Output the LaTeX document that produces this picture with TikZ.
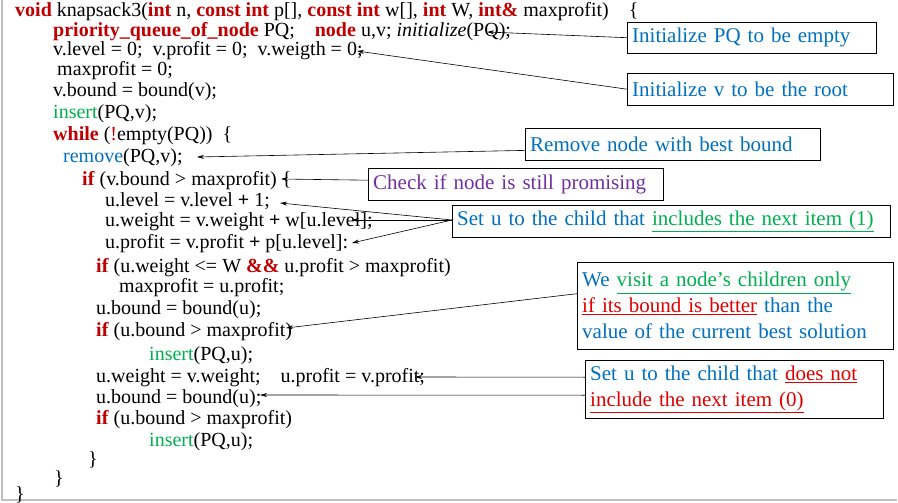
\documentclass[tikz,border=0pt]{standalone}
\usepackage{fontspec}
\setmainfont{Liberation Serif}
\usetikzlibrary{arrows.meta}
\definecolor{kw}{HTML}{C00000}
\definecolor{gr}{HTML}{00B050}
\definecolor{bl}{HTML}{0070C0}
\definecolor{pu}{HTML}{7030A0}
\definecolor{rd}{HTML}{E00000}
\newcommand{\kw}[1]{\textcolor{kw}{\textbf{#1}}}
\newcommand{\grn}[1]{\textcolor{gr}{#1}}
\newcommand{\myul}[1]{\underline{#1}}
\tikzset{
 code/.style={anchor=base west,inner sep=0pt,font=\fontsize{20}{22}\selectfont},
 cbox/.style={draw,anchor=north west,inner xsep=5pt,inner ysep=0pt,align=left,font=\fontsize{21}{26}\selectfont,text=bl},
 arr/.style={-{Stealth[length=7pt,width=4pt]},semithick}
}
\begin{document}
\begin{tikzpicture}[x=1pt,y=-1pt]
\fill[white] (0,0) rectangle (898,503);
\useasboundingbox (0,0) rectangle (898,503);
\draw[gray!50,line width=1.2pt] (2,-1) -- (2,500) -- (897,500);
\node[code] (l1) at (15,17) {\kw{void} knapsack3(\kw{int} n, \kw{const int} p[], \kw{const int} w[], \kw{int} W, \kw{int\&} maxprofit)\quad\{};
\node[code] (l2) at (53,37) {\kw{priority\_queue\_of\_node} PQ;\quad \kw{node} u,v; \textit{initialize}(PQ);};
\node[code] (l3) at (53,56) {v.level = 0;\ \ v.profit = 0;\ \ v.weigth = 0;};
\node[code] (l4) at (57,76) {maxprofit = 0;};
\node[code] (l5) at (53,96) {v.bound = bound(v);};
\node[code] (l6) at (53,118) {\grn{insert}(PQ,v);};
\node[code] (l7) at (53,140) {\kw{while} (\textcolor{kw}{!}empty(PQ))\ \ \{};
\node[code] (l8) at (63,162) {\textcolor{bl}{remove}(PQ,v);};
\node[code] (l9) at (82,185) {\kw{if} (v.bound > maxprofit) \{};
\node[code] (l10) at (105,206) {u.level = v.level \textbf{+} 1;};
\node[code] (l11) at (105,226) {u.weight = v.weight \textbf{+} w[u.level];};
\node[code] (l12) at (105,248) {u.profit = v.profit \textbf{+} p[u.level]:};
\node[code] (l13) at (96,272) {\kw{if} (u.weight <= W \kw{\&\&} u.profit > maxprofit)};
\node[code] (l14) at (119,292) {maxprofit = u.profit;};
\node[code] (l15) at (96,314) {u.bound = bound(u);};
\node[code] (l16) at (96,336) {\kw{if} (u.bound > maxprofit)};
\node[code] (l17) at (149,360) {\grn{insert}(PQ,u);};
\node[code] (l18) at (96,382) {u.weight = v.weight;\quad u.profit = v.profit;};
\node[code] (l19) at (96,403) {u.bound = bound(u);};
\node[code] (l20) at (96,424) {\kw{if} (u.bound > maxprofit)};
\node[code] (l21) at (149,446) {\grn{insert}(PQ,u);};
\node[code] (l22) at (88,465) {\}};
\node[code] (l23) at (54,484) {\}};
\node[code] (l24) at (15,500) {\}};
% boxes
\node[cbox,minimum width=249pt,minimum height=31pt,text width=239pt] (A) at (627,22) {Initialize PQ to be empty};
\node[cbox,minimum width=266pt,minimum height=32pt,text width=256pt] (B) at (627,73) {Initialize v to be the root};
\node[cbox,minimum width=295pt,minimum height=32pt,text width=285pt] (C) at (525,128) {Remove node with best bound};
\node[cbox,minimum width=295pt,minimum height=32pt,text width=285pt,text=pu] (D) at (368,168) {Check if node is still promising};
\node[cbox,minimum width=438pt,minimum height=32pt,text width=428pt] (E) at (452,205) {Set u to the child that \textcolor{gr}{\myul{includes the next item (1)}}};
\node[cbox,minimum width=316pt,minimum height=87pt,text width=306pt] (F) at (577,262) {We \textcolor{gr}{\myul{visit a node’s children only}}\\\textcolor{rd}{\myul{if its bound is better}} than the\\value of the current best solution};
\node[cbox,minimum width=298pt,minimum height=58pt,text width=288pt] (G) at (585,360) {Set u to the child that \textcolor{rd}{\myul{does not}}\\\textcolor{rd}{\myul{include the next item (0)}}};
% arrows
\draw[arr] (A.west) -- (487,32);
\draw[arr] (B.west) -- (357,51);
\draw[arr] (C.south west) ++(0,-10) -- (197,157);
\draw[arr] (D.west) ++(0,-4) -- (281,179);
\coordinate (e) at (452,220);
\draw[arr] (e) -- (280,203);
\draw[arr] (e) -- (352,220);
\draw[arr] (e) -- (352,243);
\draw[arr] (F.west) ++(0,-12) -- (286,328);
\draw[arr] (G.west) ++(0,-12) -- (415,377);
\draw[arr] (G.west) ++(0,6) -- (260,395);
\end{tikzpicture}
\end{document}
